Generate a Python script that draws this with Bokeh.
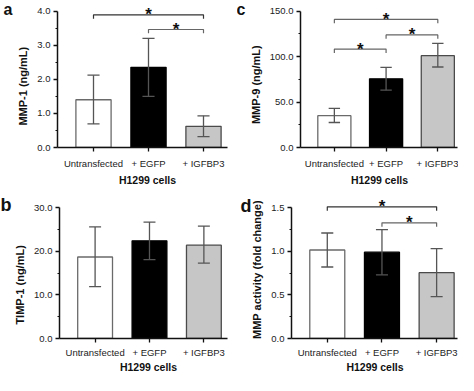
from bokeh.plotting import figure
from bokeh.models import Range1d, FixedTicker, Label, NumeralTickFormatter
from bokeh.layouts import column, row
from bokeh.embed import file_html
from bokeh.resources import INLINE
from bokeh.core.properties import value

categories = ["Untransfected", "+ EGFP", "+ IGFBP3"]
bar_colors = ["#ffffff", "#000000", "#c6c6c6"]
outline_colors = ["#6a6a6a", "#000000", "#4a4a4a"]

mmp1_mean = [1.40, 2.35, 0.62]
mmp1_low = [0.69, 1.50, 0.32]
mmp1_high = [2.12, 3.20, 0.93]

mmp9_mean = [35.0, 75.5, 101.0]
mmp9_low = [27.5, 63.0, 88.5]
mmp9_high = [43.0, 88.0, 114.5]

timp1_mean = [18.7, 22.4, 21.4]
timp1_low = [11.9, 18.1, 17.3]
timp1_high = [25.6, 26.7, 25.8]

activity_mean = [1.015, 0.99, 0.755]
activity_low = [0.82, 0.73, 0.48]
activity_high = [1.21, 1.25, 1.03]

# significance brackets: (from group, to group, bracket height)
mmp1_sig = [(0, 2, 3.89), (1, 2, 3.46)]
mmp9_sig = [(0, 2, 140.8), (1, 2, 123.8), (0, 1, 108.2)]
timp1_sig = []
activity_sig = [(0, 2, 1.51), (1, 2, 1.327)]

FONT = "Liberation Sans"
PX_PER_GROUP = 55.0
FIRST_CENTER = 36.0
NBSP = "\u00a0"


def make_panel(letter, ylabel, mean, low, high, y_top, majors, minors, sig,
               width, height, border_left, border_bottom, axis_top_px, x_axis_end,
               letter_xy, letter_size, label_standoff, title_standoff, label_pad):
    frame_w = width - border_left
    frame_h = height - border_bottom
    px_y = (frame_h - axis_top_px) / y_top
    y_end = frame_h / px_y
    x_start = -FIRST_CENTER / PX_PER_GROUP
    x_end = x_start + frame_w / PX_PER_GROUP
    tick_drop = 4.0 / px_y

    p = figure(width=width, height=height, output_backend="svg", toolbar_location=None,
               x_range=Range1d(x_start, x_end), y_range=Range1d(0, y_end),
               min_border_left=border_left, min_border_right=0, min_border_top=0,
               min_border_bottom=border_bottom)
    p.outline_line_color = None
    p.xgrid.grid_line_color = None
    p.ygrid.grid_line_color = None
    p.background_fill_color = "white"

    xs = list(range(len(categories)))
    p.vbar(x=xs, top=mean, width=0.64, bottom=0, fill_color=bar_colors,
           line_color=outline_colors, line_width=1.3)

    p.segment(x0=xs, y0=low, x1=xs, y1=high, line_color="#555555", line_width=1.3)
    p.segment(x0=[x - 0.11 for x in xs], y0=high, x1=[x + 0.11 for x in xs], y1=high,
              line_color="#555555", line_width=1.3)
    p.segment(x0=[x - 0.11 for x in xs], y0=low, x1=[x + 0.11 for x in xs], y1=low,
              line_color="#555555", line_width=1.3)

    for i, (a, b, h) in enumerate(sig):
        col = "#333333" if i == 0 and len(sig) == 2 else "#666666"
        p.line(x=[a, a, b, b], y=[h - tick_drop, h, h, h - tick_drop],
               line_color=col, line_width=1.2)
    if sig:
        p.text(x=[(a + b) / 2 for a, b, h in sig], y=[h for a, b, h in sig],
               text=["*"] * len(sig), text_align="center", text_baseline="alphabetic",
               text_font_size="17px", text_font_style="bold", text_color="#111111",
               text_font=value(FONT))

    ya = p.yaxis[0]
    ya.ticker = FixedTicker(ticks=majors, minor_ticks=minors)
    ya.formatter = NumeralTickFormatter(format="0.0")
    ya.bounds = (0, y_top)
    # non-breaking padding moves the centred title down, as in the original
    ya.axis_label = ylabel + NBSP * label_pad
    ya.axis_label_text_font = FONT
    ya.axis_label_text_font_style = "bold"
    ya.axis_label_text_font_size = "11px"
    ya.axis_label_text_color = "#111111"
    ya.axis_label_standoff = 5
    ya.major_label_text_font = FONT
    ya.major_label_text_font_size = "9.5px"
    ya.major_label_text_color = "#222222"
    ya.major_label_standoff = 3
    ya.axis_line_color = "#111111"
    ya.axis_line_width = 1.5
    ya.major_tick_line_color = "#111111"
    ya.major_tick_line_width = 1.3
    ya.major_tick_out = 4
    ya.major_tick_in = 0
    ya.minor_tick_line_color = "#111111"
    ya.minor_tick_line_width = 1.2
    ya.minor_tick_out = 2
    ya.minor_tick_in = 0

    xa = p.xaxis[0]
    xa.ticker = FixedTicker(ticks=xs)
    xa.major_label_overrides = {i: c for i, c in enumerate(categories)}
    xa.bounds = (x_start, x_axis_end)
    xa.axis_label = "H1299 cells"
    xa.axis_label_text_font = FONT
    xa.axis_label_text_font_style = "bold"
    xa.axis_label_text_font_size = "10.5px"
    xa.axis_label_text_color = "#111111"
    xa.axis_label_standoff = title_standoff
    xa.major_label_text_font = FONT
    xa.major_label_text_font_size = "9.5px"
    xa.major_label_text_color = "#222222"
    xa.major_label_standoff = label_standoff
    xa.axis_line_color = "#111111"
    xa.axis_line_width = 1.5
    xa.major_tick_line_color = "#111111"
    xa.major_tick_line_width = 1.3
    xa.major_tick_out = 4
    xa.major_tick_in = 0
    xa.minor_tick_line_color = None

    # panel letter in the left side panel (y measured up from the frame bottom)
    p.add_layout(Label(x=letter_xy[0], y=frame_h - letter_xy[1], x_units="screen",
                       y_units="screen", text=letter, text_font=FONT,
                       text_font_size=letter_size, text_font_style="bold",
                       text_baseline="alphabetic", text_color="#111111"), "left")
    return p


pa = make_panel("a", "MMP-1 (ng/mL)", mmp1_mean, mmp1_low, mmp1_high,
                4.0, [0, 1, 2, 3, 4], [0.5, 1.5, 2.5, 3.5], mmp1_sig,
                237, 188, 57, 35, 11, 2.436, (-2, 15), "16px", 6, 2, 8)
pc = make_panel("c", "MMP-9 (ng/mL)", mmp9_mean, mmp9_low, mmp9_high,
                150.0, [0, 50, 100, 150], [25, 75, 125], mmp9_sig,
                221, 188, 53, 35, 11, 2.38, (-1, 15), "16px", 6, 2, 7)
pb = make_panel("b", "TIMP-1 (ng/mL)", timp1_mean, timp1_low, timp1_high,
                30.0, [0, 10, 20, 30], [5, 15, 25], timp1_sig,
                237, 187, 57, 31, 20, 2.436, (0, 22), "18px", 4, 0, 14)
pd_ = make_panel("d", "MMP activity (fold change)", activity_mean, activity_low,
                 activity_high, 1.5, [0, 0.5, 1.0, 1.5], [0.25, 0.75, 1.25], activity_sig,
                 221, 187, 53, 31, 20, 2.38, (3, 23), "18px", 4, 0, 4)

layout = column(row(pa, pc), row(pb, pd_))
open("out.html", "w").write(file_html(layout, INLINE))
